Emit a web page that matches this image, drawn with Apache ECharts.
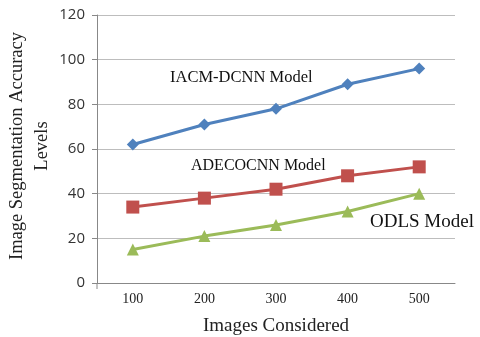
<!DOCTYPE html>
<html><head><meta charset="utf-8">
<script src="https://cdn.jsdelivr.net/npm/echarts@6/dist/echarts.min.js"></script>
<style>html,body{margin:0;padding:0;background:#fff}#c{width:480px;height:337px}</style>
</head><body><div id="c"></div>
<script>
var categories = ['100', '200', '300', '400', '500'];
var iacmDcnn = [62, 71, 78, 89, 96];
var adecocnn = [34, 38, 42, 48, 52];
var odls = [15, 21, 26, 32, 40];
var yTicks = [0, 20, 40, 60, 80, 100, 120];
var yTitle = 'Image Segmentation Accuracy\nLevels';

var serif = '"Liberation Serif", "DejaVu Serif", serif';
var chart = echarts.init(document.getElementById('c'));
function series(name, data, color, symbol, size) {
  return {
    name: name, type: 'line', data: data, symbol: symbol, symbolSize: size,
    lineStyle: {color: color, width: 3}, itemStyle: {color: color},
    animation: false
  };
}
chart.setOption({
  animation: false,
  grid: {left: 97, right: 25, top: 15, bottom: 54, containLabel: false, outerBoundsMode: 'none'},
  xAxis: {
    type: 'category', data: categories, boundaryGap: true,
    axisLine: {lineStyle: {color: '#888', width: 1}},
    axisTick: {show: false},
    axisLabel: {fontFamily: serif, fontSize: 14, color: '#222', margin: 9},
    name: 'Images Considered', nameLocation: 'middle', nameGap: 34,
    nameTextStyle: {fontFamily: serif, fontSize: 19, color: '#222'}
  },
  yAxis: {
    type: 'value', min: yTicks[0], max: yTicks[yTicks.length - 1], interval: 20,
    axisLine: {show: true, lineStyle: {color: '#888', width: 1}},
    axisTick: {show: true, length: 5, lineStyle: {color: '#888'}},
    splitLine: {lineStyle: {color: '#bdbdbd', width: 1}},
    axisLabel: {fontFamily: '"Open Sans", "Liberation Sans", sans-serif', fontSize: 15, color: '#333', margin: 12}
  },
  graphic: [
    {type: 'text', x: 30, y: 146, rotation: Math.PI / 2,
     style: {text: yTitle, font: '18.5px ' + serif, fill: '#222', align: 'center', verticalAlign: 'middle', lineHeight: 25}},
    {type: 'text', left: 170, top: 69, style: {text: 'IACM-DCNN Model', font: '16.5px ' + serif, fill: '#111'}},
    {type: 'text', left: 191, top: 158, style: {text: 'ADECOCNN Model', font: '16px ' + serif, fill: '#111'}},
    {type: 'text', left: 370, top: 213, style: {text: 'ODLS Model', font: '19px ' + serif, fill: '#111'}},
    {type: 'line', shape: {x1: 97, y1: 283, x2: 97, y2: 289}, style: {stroke: '#888', lineWidth: 1}}
  ],
  series: [
    series('IACM-DCNN Model', iacmDcnn, '#4F81BD', 'diamond', 12),
    series('ADECOCNN Model', adecocnn, '#C0504D', 'rect', 13),
    series('ODLS Model', odls, '#9BBB59', 'triangle', 12)
  ]
});
</script></body></html>
